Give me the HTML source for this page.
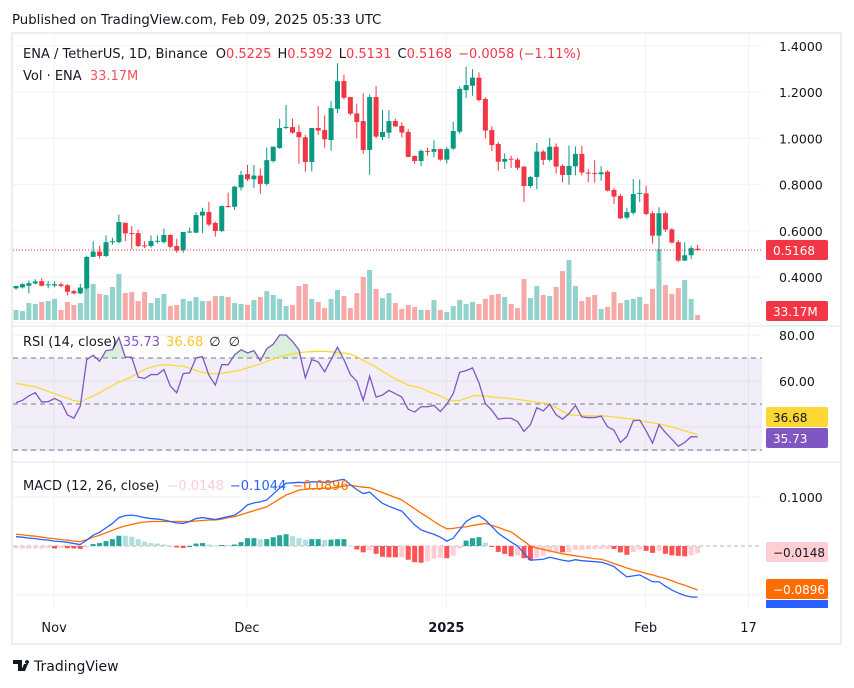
<!DOCTYPE html>
<html><head><meta charset="utf-8">
<style>
body{margin:0;background:#fff;width:854px;height:688px;overflow:hidden;font-family:"DejaVu Sans","Liberation Sans",sans-serif;}
svg{display:block}
text{font-family:"DejaVu Sans","Liberation Sans",sans-serif;}
</style></head>
<body>
<svg id="c" width="854" height="688" viewBox="0 0 854 688">
<defs><clipPath id="ob"><rect x="13" y="300" width="749" height="58"/></clipPath></defs>
<text x="12" y="24" font-size="13.3" fill="#131722">Published on TradingView.com, Feb 09, 2025 05:33 UTC</text>
<rect x="12" y="33" width="829" height="611" fill="none" stroke="#eeeeee" stroke-width="2"/>
<g id="grid"></g>
<rect x="13" y="358" width="749" height="93" fill="#7e57c2" fill-opacity="0.1"/>
<g id="marks"></g>
<line x1="12" y1="326" x2="841" y2="326" stroke="#e0e3eb"/>
<line x1="12" y1="462" x2="841" y2="462" stroke="#e0e3eb"/>
<g id="labels" font-size="12.5" fill="#131722"></g>
<g font-size="13">
<text x="23" y="58" fill="#131722">ENA / TetherUS, 1D, Binance <tspan dx="4">O</tspan><tspan fill="#f23645">0.5225</tspan><tspan dx="6">H</tspan><tspan fill="#f23645">0.5392</tspan><tspan dx="6">L</tspan><tspan fill="#f23645">0.5131</tspan><tspan dx="6">C</tspan><tspan fill="#f23645">0.5168</tspan><tspan dx="6" fill="#f23645">−0.0058 (−1.11%)</tspan></text>
<text x="23" y="80" fill="#131722">Vol · ENA <tspan dx="4" fill="#f7525f">33.17M</tspan></text>
</g>
<text x="23" y="346" font-size="13" fill="#131722">RSI (14, close) <tspan dx="2" fill="#7e57c2">35.73</tspan><tspan dx="6" fill="#f7c52b">36.68</tspan><tspan dx="6">∅</tspan><tspan dx="8">∅</tspan></text>
<text x="23" y="490" font-size="13" fill="#131722">MACD (12, 26, close) <tspan dx="4" fill="#ffcdd2">−0.0148</tspan><tspan dx="6" fill="#2962ff">−0.1044</tspan><tspan dx="6" fill="#ff6d00">−0.0896</tspan></text>
<g>
<path d="M13 660h9v11h-4v-7h-5z M24 664h4l-3 7h-4z M27 660a2 2 0 1 0 0.1 0z" fill="#131722"/>
<text x="34" y="671" font-size="14" fill="#131722">TradingView</text>
</g>
</svg>
<script>
const open=[.351,.355,.362,.372,.382,.364,.363,.368,.364,.339,.329,.350,.487,.510,.491,.551,.551,.635,.590,.590,.537,.534,.556,.551,.582,.534,.515,.595,.592,.666,.681,.634,.599,.707,.704,.788,.845,.823,.839,.803,.902,.958,1.045,1.049,1.028,1.005,.898,1.045,1.036,.993,1.128,1.248,1.179,1.108,1.075,.950,1.179,1.006,1.025,1.075,1.054,1.028,.924,.902,.946,.942,.954,.908,.956,1.029,1.209,1.228,1.263,1.171,1.036,.976,.899,.912,.908,.878,.794,.833,.943,.907,.964,.881,.842,.879,.933,.852,.850,.845,.856,.777,.751,.657,.678,.762,.762,.676,.579,.676,.606,.551,.471,.494,.5225];
const close=[.361,.369,.373,.381,.362,.368,.369,.361,.336,.329,.354,.487,.510,.491,.551,.555,.638,.589,.588,.534,.535,.556,.557,.582,.531,.514,.595,.597,.668,.683,.627,.599,.707,.705,.791,.842,.823,.839,.803,.906,.964,1.045,1.050,1.025,1.005,.898,1.045,1.034,.996,1.131,1.248,1.176,1.107,1.071,.950,1.179,1.008,1.028,1.075,1.052,1.025,.920,.902,.946,.944,.954,.908,.954,1.032,1.214,1.231,1.263,1.166,1.034,.971,.899,.911,.910,.873,.794,.833,.943,.907,.964,.878,.842,.881,.933,.852,.850,.848,.853,.774,.748,.654,.681,.759,.764,.673,.579,.676,.605,.549,.471,.494,.525,.5168];
const high=[.362,.373,.385,.390,.395,.383,.382,.376,.370,.344,.370,.492,.555,.535,.580,.570,.670,.635,.620,.605,.555,.580,.580,.610,.585,.565,.595,.615,.680,.700,.725,.640,.710,.765,.795,.860,.885,.885,.870,.960,.965,1.085,1.145,1.085,1.058,1.015,1.045,1.140,1.10,1.162,1.325,1.275,1.18,1.15,1.195,1.19,1.227,1.123,1.123,1.085,1.07,1.04,.926,.952,.96,.992,.955,.963,1.072,1.225,1.31,1.30,1.286,1.178,1.053,.985,.935,.925,.915,.880,.838,.980,.950,1.002,.978,.888,.969,.965,.967,.866,.905,.880,.862,.785,.760,.700,.824,.822,.795,.685,.702,.684,.612,.560,.550,.535,.5392];
const low=[.345,.350,.329,.368,.360,.351,.355,.355,.320,.325,.325,.345,.500,.480,.485,.540,.545,.555,.520,.530,.525,.527,.545,.545,.525,.505,.505,.590,.590,.590,.620,.575,.595,.700,.690,.775,.815,.785,.760,.795,.895,.955,1.04,1.02,.89,.856,.858,1.015,.96,.947,1.11,1.168,1.10,1.00,.933,.842,1.00,.993,1.00,1.05,1.005,.918,.890,.880,.925,.918,.903,.892,.95,1.02,1.175,1.185,1.16,1.00,.945,.860,.868,.872,.864,.725,.786,.780,.885,.900,.848,.810,.800,.840,.840,.810,.808,.817,.770,.716,.650,.650,.670,.725,.668,.545,.470,.595,.545,.465,.469,.478,.5131];
const volume=[66,59,112,106,119,125,139,66,119,99,112,205,238,172,165,218,304,178,185,125,185,112,145,172,92,99,139,125,152,125,125,158,158,152,112,106,99,132,152,191,165,139,92,99,224,238,139,119,79,139,198,158,79,178,284,330,205,145,178,112,73,99,86,66,66,132,66,53,92,132,106,119,106,139,165,172,152,106,79,271,145,224,165,158,218,323,396,224,125,152,165,73,86,185,112,132,139,152,106,205,469,231,172,211,264,139,33.17];
const rsi=[50.6,51.6,53.5,54.9,50.9,51,52.4,51,45.3,43.8,49.1,69.3,71.2,68.6,73.2,73.6,78.9,70.4,70.3,61.7,61.1,62.8,62.8,65,57.8,54.9,63.2,63.5,70,70.6,62.5,58.2,67.1,67.1,71.4,73.6,72.2,73.2,68.8,74,76,80,80,77.2,73.6,61.4,69.3,68.3,64,69.3,74.7,69.3,62.8,59.9,51.6,62.1,53,53.9,55.9,54.5,53,47.7,46.5,48.8,48.8,49.4,46.7,49.9,54.5,63.8,64.5,65.7,59.2,50.1,47.3,43.4,43.8,43.8,42.4,38.1,41,48.4,47,49.9,45.3,43.4,45.8,49.4,44.4,44.1,44.1,44.8,40.1,38.6,33.3,35.8,42.7,43,38.3,33,41,37.6,34.7,31.6,33.3,35.8,35.73];
const rsiMa=[59,58.5,58,57.5,56.5,55.5,54.5,53.5,52.5,51.5,51,52.2,53.5,54.9,56.5,58,59.5,60.5,62,63.5,65,66,66.8,67.1,66.9,66.6,66.4,65.6,64.6,63.8,63.3,63.1,63.3,63.8,64.3,64.8,65.7,66.5,67.5,68.5,69.5,70.5,71.2,71.8,72.3,72.6,72.8,72.9,72.9,72.7,72.4,72.1,71.7,70.5,69,67.5,66,64.2,62.5,61,59.5,58.2,57.6,57,55.5,54.5,53.5,52,51.4,51.5,52.5,53.5,53.7,53.4,53,52.8,52.6,52.3,52,51.6,51.2,50.8,50.4,50.1,48.5,46.8,45.3,45.1,45,44.9,44.8,44.8,44.7,44.4,44,43.7,43.4,42.8,42.3,41.8,41.3,40.8,40,39.2,38.3,37.5,36.68];
const macd=[.019,.018,.016,.015,.013,.012,.010,.009,.0075,.005,.003,.012,.022,.028,.037,.046,.058,.062,.063,.061,.058,.056,.055,.053,.050,.047,.046,.050,.056,.058,.056,.054,.057,.060,.063,.072,.084,.088,.090,.094,.106,.118,.128,.129,.130,.129,.131,.131,.130,.131,.134,.136,.125,.115,.107,.110,.098,.087,.081,.076,.071,.057,.043,.033,.028,.024,.018,.010,.016,.033,.050,.058,.062,.053,.040,.026,.017,.008,0,-.015,-.029,-.028,-.027,-.023,-.026,-.029,-.031,-.028,-.030,-.031,-.032,-.033,-.037,-.042,-.053,-.063,-.061,-.059,-.066,-.073,-.073,-.082,-.090,-.096,-.101,-.104,-.1044];
const signal=[.024,.023,.021,.020,.018,.016,.015,.013,.012,.010,.009,.013,.018,.022,.027,.032,.037,.041,.044,.047,.049,.050,.050,.050,.050,.050,.050,.050,.051,.052,.053,.053,.055,.058,.060,.064,.068,.072,.076,.080,.088,.096,.104,.109,.114,.116,.117,.117,.118,.118,.120,.122,.124,.122,.120,.119,.114,.109,.104,.099,.094,.085,.076,.067,.059,.050,.042,.035,.036,.038,.039,.042,.044,.046,.042,.038,.033,.029,.019,.010,0,-.004,-.007,-.010,-.013,-.016,-.018,-.020,-.022,-.024,-.026,-.027,-.031,-.036,-.040,-.045,-.049,-.052,-.056,-.059,-.063,-.066,-.071,-.076,-.080,-.085,-.0896];
const priceTicks=[1.4,1.2,1.0,0.8,0.6,0.4];
const rsiTicks=[80,60];
const macdTicks=[0.1];
const timeLabels=["Nov","Dec","2025","Feb","17"];
const timeIdx=[6,36,67,98,114];

const NS="http://www.w3.org/2000/svg";
const X=i=>16+6.43*i;
const PY=p=>46+(1.4-p)*231;
const VY=v=>320-v/6.6;
const RY=r=>335+(80-r)*2.3;
const MY=m=>546-m*490;
function mk(tag,attrs,parent){const e=document.createElementNS(NS,tag);for(const k in attrs)e.setAttribute(k,attrs[k]);parent.appendChild(e);return e;}
const grid=document.getElementById('grid'),marks=document.getElementById('marks'),labels=document.getElementById('labels');

timeIdx.forEach((ti,k)=>{
  const l=mk('line',{x1:X(ti)-0.5,y1:34,x2:X(ti)-0.5,y2:608,stroke:'#f2f2f2'},grid);
  
  
  const t=mk('text',{x:X(ti)-0.5,y:632,'text-anchor':'middle','font-size':13,'font-weight':timeLabels[k]==='2025'?'bold':'normal'},labels);
  t.textContent=timeLabels[k];
  
  
});
priceTicks.forEach(p=>{
  const l=mk('line',{x1:13,y1:PY(p),x2:762,y2:PY(p),stroke:'#f2f2f2'},grid);
  
  
  const t=mk('text',{x:779,y:PY(p)+5},labels);t.textContent=p.toFixed(4);
  
  
});
mk('line',{x1:13,y1:323,x2:762,y2:323,stroke:'#f2f2f2'},grid);
[80,60,40].forEach(r=>{mk('line',{x1:13,y1:RY(r),x2:762,y2:RY(r),stroke:'#f0f0f0'},grid);});
rsiTicks.forEach(r=>{
  const t=mk('text',{x:779,y:RY(r)+5},labels);t.textContent=r.toFixed(2);
  
  
});
[70,50,30].forEach(r=>{
  const l=mk('line',{x1:13,y1:RY(r),x2:762,y2:RY(r),stroke:'#787b86','stroke-dasharray':'5,4'},grid);
  
  
});
[0.1,-0.1].forEach(m=>{mk('line',{x1:13,y1:MY(m),x2:762,y2:MY(m),stroke:'#f0f0f0'},grid);});
macdTicks.forEach(m=>{
  const t=mk('text',{x:779,y:MY(m)+5},labels);t.textContent=m.toFixed(4);
  
  
});
{const t=mk('text',{x:779,y:MY(0)+5},labels);t.textContent='0.0000';}
{const l=mk('line',{x1:13,y1:MY(0),x2:762,y2:MY(0),stroke:'#b2b5be','stroke-dasharray':'4,3'},grid);

}

volume.forEach((v,i)=>{
  const up=close[i]>=open[i];
  const r=mk('rect',{x:X(i)-2.5,y:VY(v),width:5,height:320-VY(v),fill:up?'#92d2cc':'#f7a9a7'},marks);
  
  
});
open.forEach((o,i)=>{
  const c=close[i],up=c>=o,col=up?'#089981':'#f23645';
  const g=mk('g',{},marks);
  
  
  mk('line',{x1:X(i),y1:PY(high[i]),x2:X(i),y2:PY(low[i]),stroke:col,'stroke-width':1},g);
  const t=Math.min(PY(o),PY(c)),h=Math.max(1,Math.abs(PY(o)-PY(c)));
  mk('rect',{x:X(i)-2.5,y:t,width:5,height:h,fill:col},g);
});
{const l=mk('line',{x1:13,y1:PY(close[close.length-1]),x2:762,y2:PY(close[close.length-1]),stroke:'#f23645','stroke-dasharray':'1,2'},marks);

}
function poly(arr,fy,col,name,w){
  const p=mk('polyline',{points:arr.map((v,i)=>X(i)+','+fy(v)).join(' '),fill:'none',stroke:col,'stroke-width':w||1.3},marks);
  
  
}
{const pts=rsi.map((v,i)=>X(i)+','+RY(v)).join(' ')+' '+X(rsi.length-1)+','+RY(70)+' '+X(0)+','+RY(70);
const f=mk('polygon',{points:pts,fill:'#4caf50','fill-opacity':0.2,'clip-path':'url(#ob)'},marks);

}
poly(rsiMa,RY,'#fdd835','rsi-ma-line');
poly(rsi,RY,'#7e57c2','rsi-line');
macd.forEach((m,i)=>{
  const h=m-signal[i],prev=i>0?macd[i-1]-signal[i-1]:h;
  let col;
  if(h>=0)col=h>=prev?'#26a69a':'#b2dfdb';else col=h<prev?'#ff5252':'#ffcdd2';
  const y1=MY(Math.max(h,0)),y2=MY(Math.min(h,0));
  const r=mk('rect',{x:X(i)-2.5,y:y1,width:5,height:Math.max(1,y2-y1),fill:col},marks);
  
  
});
poly(signal,MY,'#ff6d00','macd-signal-line');
poly(macd,MY,'#2962ff','macd-line');

function badge(y,txt,bg,fg,name){
  const g=mk('g',{},labels);
  
  
  mk('rect',{x:766,y:y-10,width:62,height:20,rx:2,fill:bg},g);
  const t=mk('text',{x:773,y:y+5,fill:fg,'font-size':12},g);t.textContent=txt;
}
badge(250,close[close.length-1].toFixed(4),'#f23645','#fff','last-price-badge');
badge(311,'33.17M','#f23645','#fff','volume-badge');
badge(417,rsiMa[rsiMa.length-1].toFixed(2),'#fdd835','#131722','rsi-ma-badge');
badge(438,rsi[rsi.length-1].toFixed(2),'#7e57c2','#fff','rsi-badge');
badge(552,'−0.0148','#ffcdd2','#131722','histogram-badge');
badge(589,'−0.0896','#ff6d00','#fff','signal-badge');
{const g=mk('g',{},labels);


mk('rect',{x:766,y:600,width:62,height:8,fill:'#2962ff'},g);}
</script>
</body></html>
